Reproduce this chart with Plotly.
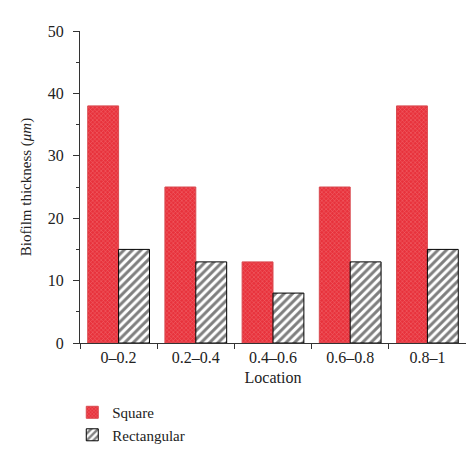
import plotly.graph_objects as go

# data
locations = ["0\u20130.2", "0.2\u20130.4", "0.4\u20130.6", "0.6\u20130.8", "0.8\u20131"]
square = [38, 25, 13, 25, 38]
rectangular = [15, 13, 8, 13, 15]

FONT = "Liberation Serif"

fig = go.Figure()
fig.add_trace(go.Bar(
    x=locations, y=square, name="Square",
    marker=dict(color="#e8323c", line=dict(color="#d84a50", width=1),
                pattern=dict(shape="x", fgcolor="#f7a3a5", size=3, solidity=0.3)),
))
fig.add_trace(go.Bar(
    x=locations, y=rectangular, name="Rectangular",
    marker=dict(color="white", line=dict(color="black", width=1),
                pattern=dict(shape="/", fgcolor="black", bgcolor="white", size=6, solidity=0.5)),
))

fig.update_layout(
    width=474, height=459,
    margin=dict(l=72, r=16, t=23, b=124),
    paper_bgcolor="white", plot_bgcolor="white",
    barmode="group", bargap=0.2, bargroupgap=0,
    font=dict(family=FONT, size=16, color="#222"),
    showlegend=True,
    legend=dict(x=-0.02, y=-0.17, xanchor="left", yanchor="top",
                font=dict(family=FONT, size=15), tracegroupgap=0,
                bgcolor="rgba(0,0,0,0)"),
)
fig.update_xaxes(
    showline=True, linecolor="#333", linewidth=1.2,
    ticks="outside", tickson="boundaries", ticklen=5, tickcolor="#333",
    showgrid=False, range=[-0.5, 4.5],
    title=dict(text="Location", font=dict(size=16), standoff=6),
)
fig.update_yaxes(
    showline=True, linecolor="#333", linewidth=1.2,
    ticks="outside", ticklen=6, tickcolor="#333", ticklabelstandoff=6,
    range=[0, 50], dtick=10, showgrid=False, zeroline=False,
    minor=dict(ticks="outside", ticklen=3, dtick=5, tickcolor="#333"),
    title=dict(text="Biofilm thickness (<i>\u03bcm</i>)", font=dict(size=15), standoff=12),
)

fig.write_html("out.html")
